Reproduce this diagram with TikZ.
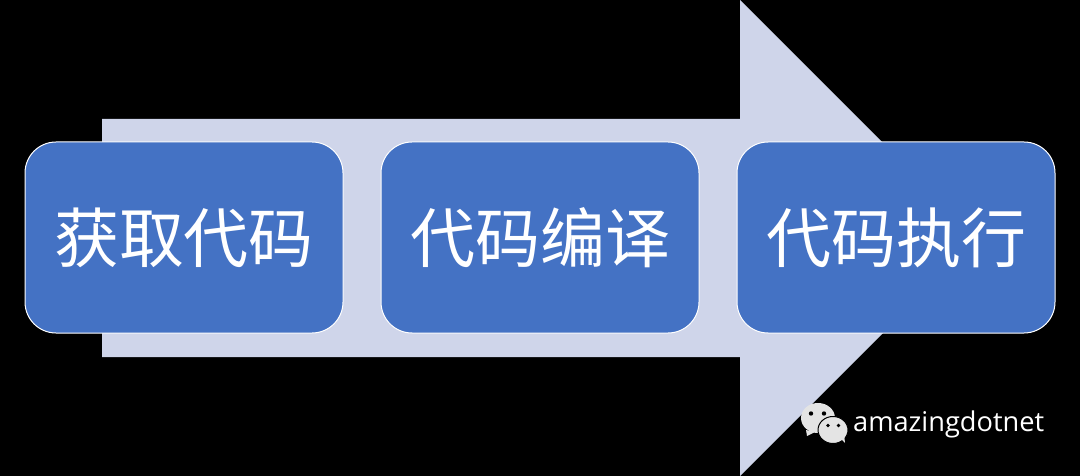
\documentclass[tikz,border=0pt]{standalone}
\usepackage{fontspec}
\newfontfamily\cjk{Noto Sans CJK SC}
\setmainfont{Open Sans}
\definecolor{arrowfill}{HTML}{CFD5EA}
\definecolor{boxfill}{HTML}{4472C4}
\definecolor{iconfill}{HTML}{E4E4E4}
\tikzset{
  stagebox/.style={draw=white,line width=1pt,fill=boxfill,rounded corners=31pt,
    minimum width=318pt,minimum height=191pt,inner sep=0pt,text=white,
    font=\cjk\fontsize{65}{65}\selectfont},
  bubble/.style={fill=iconfill,draw=none},
  bubbletop/.style={fill=iconfill,draw=black,line width=1pt},
  eye/.style={fill=black,draw=none}
}
\begin{document}
\begin{tikzpicture}[x=1pt,y=-1pt]
\useasboundingbox (0,0) rectangle (1080,476);
\fill[black] (0,0) rectangle (1080,476);
\fill[arrowfill] (102,119) -- (740,119) -- (740,0) -- (978,238) -- (740,476) -- (740,357) -- (102,357) -- cycle;
\node[stagebox] (fetch) at (184,237.5) {获取代码};
\node[stagebox] (compile) at (540,237.5) {代码编译};
\node[stagebox] (run) at (896,237.5) {代码执行};
% WeChat icon
\fill[bubble] (806,430) -- (807,436) -- (815,432) -- cycle;
\fill[bubble] (818,418) ellipse [x radius=17, y radius=15];
\fill[eye] (811,413.5) circle (2.2);
\fill[eye] (824,413.5) circle (2.2);
\draw[bubbletop] (833,430) ellipse [x radius=15, y radius=13.5];
\fill[bubble] (840,438) -- (845,443) -- (844,434) -- cycle;
\fill[eye] (828,425.5) circle (1.9);
\fill[eye] (838.5,425.5) circle (1.9);
\node[text=white,font=\fontsize{27.2}{27.2}\selectfont,inner sep=0pt,anchor=west] (brand) at (853,424.5) {amazingdotnet};
\end{tikzpicture}
\end{document}
